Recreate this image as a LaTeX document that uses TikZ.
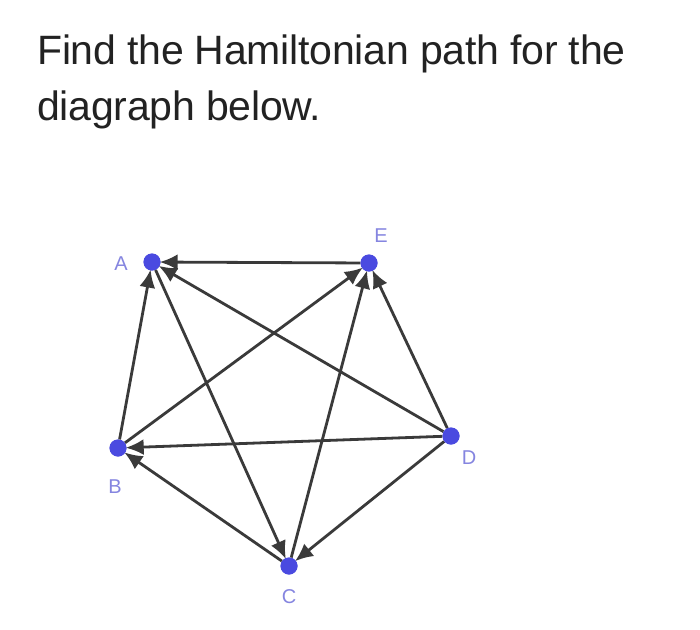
\documentclass[tikz,border=0pt]{standalone}
\usepackage{fontspec}
\setmainfont{Liberation Sans}
\usetikzlibrary{arrows.meta}
\definecolor{dotblue}{HTML}{4A4AE0}
\definecolor{lblblue}{HTML}{8585E0}
\definecolor{edgegray}{HTML}{3A3A3A}
\definecolor{txt}{HTML}{222222}
\begin{document}
\begin{tikzpicture}[x=1pt,y=-1pt,
  vtx/.style={circle,fill=dotblue,inner sep=0pt,minimum size=17pt},
  lbl/.style={text=lblblue,font=\fontsize{20}{20}\selectfont},
  edg/.style={draw=edgegray,line width=2.8pt,-{Latex[length=18pt,width=16pt]},shorten >=-1pt},
  title/.style={anchor=base west,text=txt,inner sep=0pt,font=\fontsize{41}{41}\selectfont}]
\useasboundingbox[fill=white] (0,0) rectangle (700,629);
\node[title] (t1) at (37,64) {\addfontfeatures{LetterSpace=-0.6}Find the Hamiltonian path for the};
\node[title] (t2) at (37,120) {\addfontfeatures{LetterSpace=-0.6}diagraph below.};
\node[vtx] (A) at (152,262) {};
\node[vtx] (E) at (369,263) {};
\node[vtx] (D) at (451,436) {};
\node[vtx] (B) at (118,448) {};
\node[vtx] (C) at (289,566) {};
\node[lbl] (la) at (121,264) {A};
\node[lbl] (le) at (381,236) {E};
\node[lbl] (ld) at (469,458) {D};
\node[lbl] (lb) at (115,487) {B};
\node[lbl] (lc) at (289,597) {C};
\draw[edg] (E) -- (A);
\draw[edg] (D) -- (A);
\draw[edg] (B) -- (A);
\draw[edg] (A) -- (C);
\draw[edg] (B) -- (E);
\draw[edg] (C) -- (E);
\draw[edg] (D) -- (E);
\draw[edg] (D) -- (B);
\draw[edg] (C) -- (B);
\draw[edg] (D) -- (C);
\node[vtx] (A2) at (A) {};
\node[vtx] (E2) at (E) {};
\node[vtx] (D2) at (D) {};
\node[vtx] (B2) at (B) {};
\node[vtx] (C2) at (C) {};
\end{tikzpicture}
\end{document}
